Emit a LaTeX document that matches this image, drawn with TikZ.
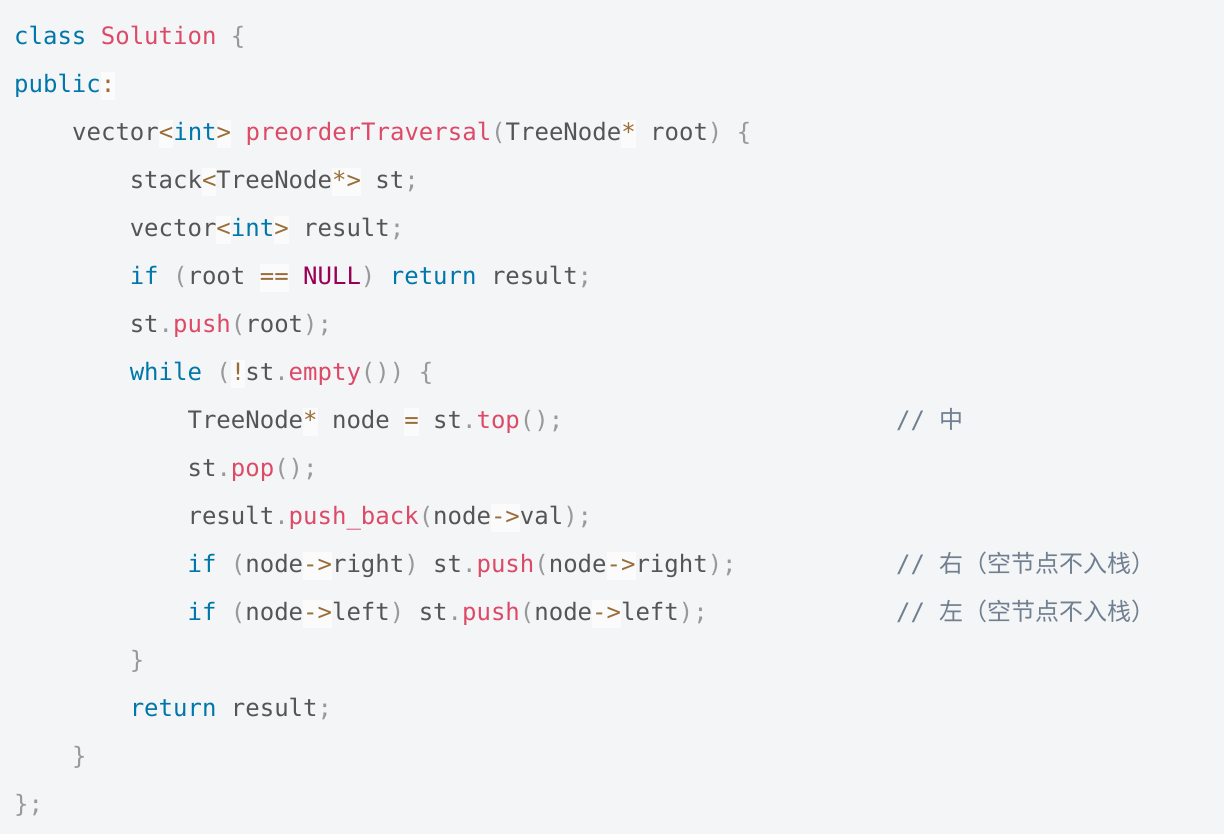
\documentclass[tikz,border=0pt]{standalone}
\usepackage{fontspec}
\setmonofont{DejaVu Sans Mono}
\newfontfamily\cjk{Noto Sans CJK SC}
\definecolor{bg}{HTML}{F4F5F7}
\definecolor{txt}{HTML}{555555}
\definecolor{kw}{HTML}{0077AA}
\definecolor{fn}{HTML}{DD4A68}
\definecolor{op}{HTML}{9A6E3A}
\definecolor{pu}{HTML}{999999}
\definecolor{nul}{HTML}{990055}
\definecolor{cm}{HTML}{708090}
\definecolor{opbg}{HTML}{FBFBFB}
\newcommand\K[1]{\textcolor{kw}{#1}}
\newcommand\F[1]{\textcolor{fn}{#1}}
\newcommand\Op[1]{{\setlength\fboxsep{0pt}\colorbox{opbg}{\rule[-7pt]{0pt}{28pt}\textcolor{op}{#1}}}}
\newcommand\Pu[1]{\textcolor{pu}{#1}}
\newcommand\Nl[1]{\textcolor{nul}{#1}}
\begin{document}
\begin{tikzpicture}[x=1pt,y=1pt,
  code/.style={anchor=base west,inner sep=0pt,font=\ttfamily\fontsize{24}{28}\selectfont,text=txt},
  cmt/.style={code,text=cm}]
\fill[bg] (0,0) rectangle (1224,834);
\useasboundingbox (0,0) rectangle (1224,834);
\def\cw{14.45}
\def\L#1{(14+#1*\cw)}
\node[code] (l1) at (14,789) {\K{class} \F{Solution} \Pu{\{}};
\node[code] (l2) at (14,741) {\K{public}\Op{:}};
\node[code] (l3) at (72,693) {vector\Op{<}\K{int}\Op{>} \F{preorderTraversal}\Pu{(}TreeNode\Op{*} root\Pu{)} \Pu{\{}};
\node[code] (l4) at (129.6,645) {stack\Op{<}TreeNode\Op{*>} st\Pu{;}};
\node[code] (l5) at (129.6,597) {vector\Op{<}\K{int}\Op{>} result\Pu{;}};
\node[code] (l6) at (129.6,549) {\K{if} \Pu{(}root \Op{==} \Nl{NULL}\Pu{)} \K{return} result\Pu{;}};
\node[code] (l7) at (129.6,501) {st\Pu{.}\F{push}\Pu{(}root\Pu{);}};
\node[code] (l8) at (129.6,453) {\K{while} \Pu{(}\Op{!}st\Pu{.}\F{empty}\Pu{())} \Pu{\{}};
\node[code] (l9) at (187.4,405) {TreeNode\Op{*} node \Op{=} st\Pu{.}\F{top}\Pu{();}};
\node[code] (l10) at (187.4,357) {st\Pu{.}\F{pop}\Pu{();}};
\node[code] (l11) at (187.4,309) {result\Pu{.}\F{push\_back}\Pu{(}node\Op{->}val\Pu{);}};
\node[code] (l12) at (187.4,261) {\K{if} \Pu{(}node\Op{->}right\Pu{)} st\Pu{.}\F{push}\Pu{(}node\Op{->}right\Pu{);}};
\node[code] (l13) at (187.4,213) {\K{if} \Pu{(}node\Op{->}left\Pu{)} st\Pu{.}\F{push}\Pu{(}node\Op{->}left\Pu{);}};
\node[code] (l14) at (129.6,165) {\Pu{\}}};
\node[code] (l15) at (129.6,117) {\K{return} result\Pu{;}};
\node[code] (l16) at (72,69) {\Pu{\}}};
\node[code] (l17) at (14,21) {\Pu{\};}};
\node[cmt] (c9) at (896,405) {// {\cjk 中}};
\node[cmt] (c12) at (896,261) {// {\cjk 右（空节点不入栈）}};
\node[cmt] (c13) at (896,213) {// {\cjk 左（空节点不入栈）}};
\end{tikzpicture}
\end{document}
